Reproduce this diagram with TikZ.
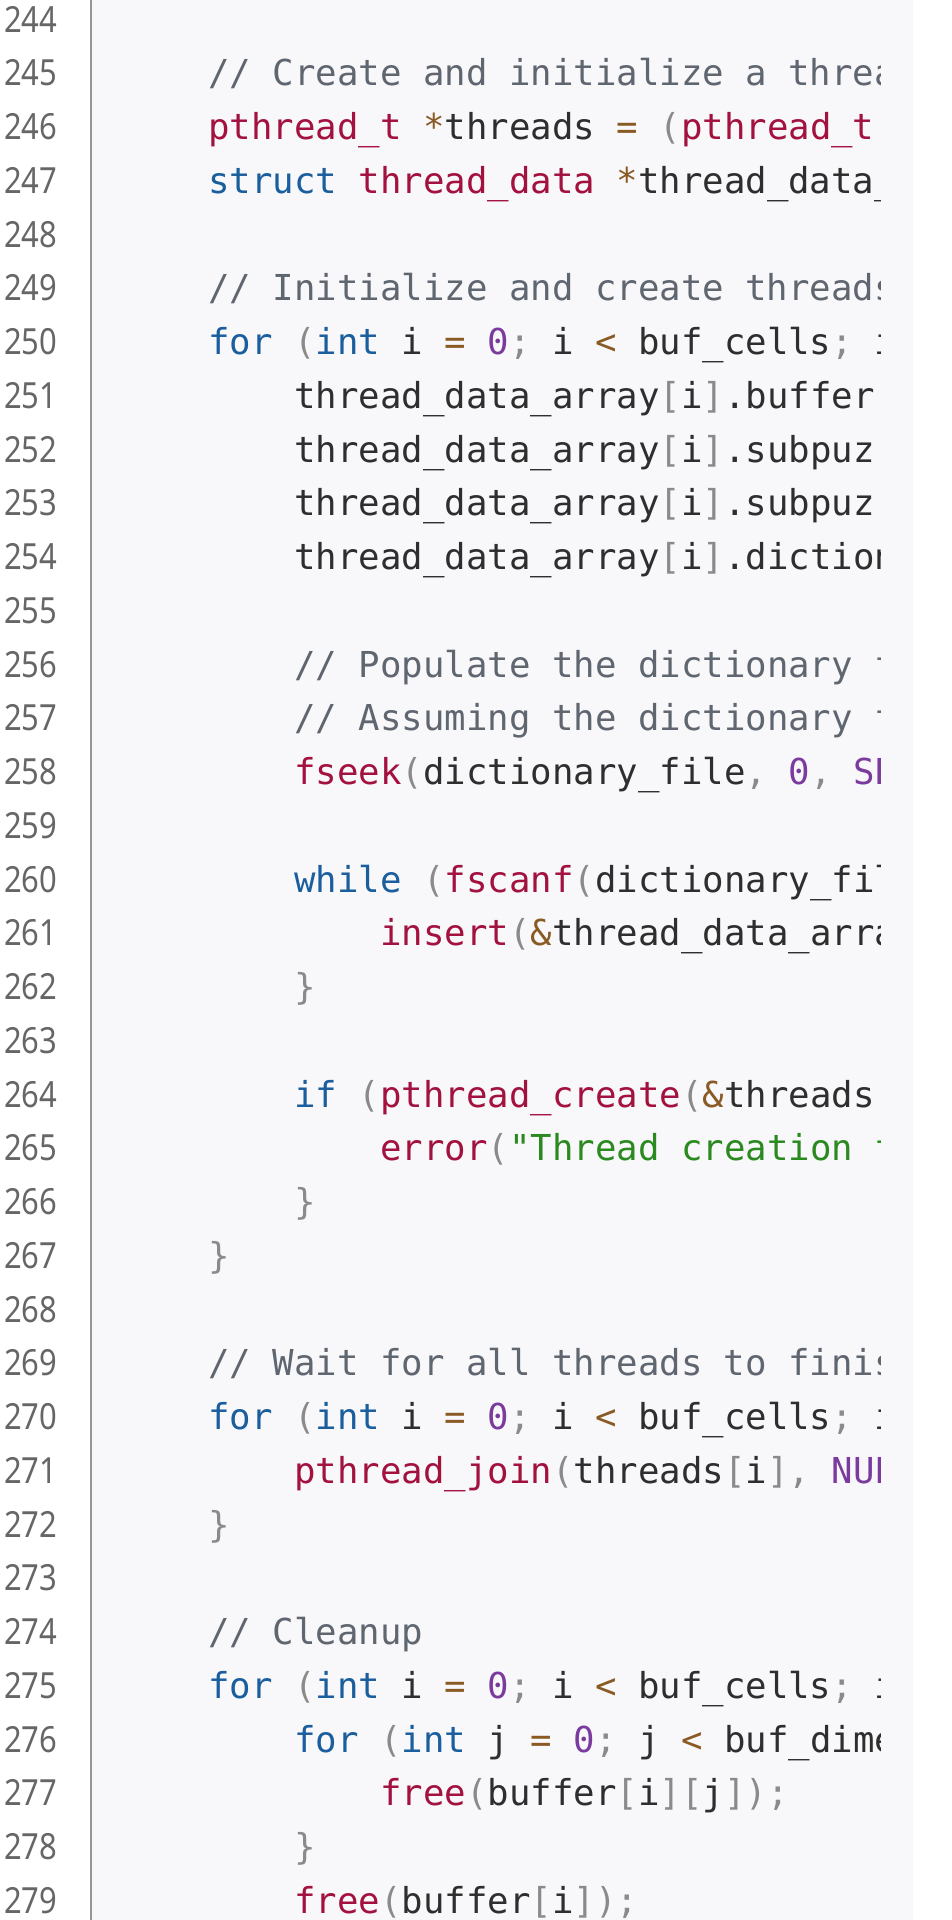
\documentclass[tikz,border=0pt]{standalone}
\usepackage{fontspec}
\setmonofont{DejaVu Sans Mono}
\newfontfamily\numfont{Noto Sans}
\definecolor{cmt}{HTML}{5F6670}
\definecolor{typ}{HTML}{A3123F}
\definecolor{kwd}{HTML}{1A5E9E}
\definecolor{num}{HTML}{7B3A9E}
\definecolor{opr}{HTML}{8A5A24}
\definecolor{pun}{HTML}{8A8A8A}
\definecolor{idn}{HTML}{2E2E2E}
\definecolor{str}{HTML}{2B8A1F}
\definecolor{lnum}{HTML}{666666}
\definecolor{panel}{HTML}{F8F8FA}
\newcommand{\cm}[1]{\textcolor{cmt}{#1}}
\newcommand{\ty}[1]{\textcolor{typ}{#1}}
\newcommand{\kw}[1]{\textcolor{kwd}{#1}}
\newcommand{\nm}[1]{\textcolor{num}{#1}}
\newcommand{\op}[1]{\textcolor{opr}{#1}}
\newcommand{\pn}[1]{\textcolor{pun}{#1}}
\newcommand{\st}[1]{\textcolor{str}{#1}}
\tikzset{
  codeline/.style={anchor=base west,inner sep=0pt,font=\ttfamily\fontsize{35.7}{40}\selectfont,text=idn},
  lineno/.style={anchor=base west,inner sep=0pt,font=\numfont\fontsize{36}{40}\selectfont,text=lnum,xscale=0.86}
}
\begin{document}
\begin{tikzpicture}[x=1pt,y=-1pt]
\useasboundingbox (0,0) rectangle (952,1920);
\fill[white] (0,0) rectangle (952,1920);
\fill[panel] (92,0) rectangle (913,1920);
\draw[pun!90,line width=2pt] (91,0) -- (91,1920);
\foreach \k [evaluate=\k as \yy using {32+(\k-244)*53.75}] in {244,...,279}{
  \node[lineno] (n\k) at (4,\yy) {\k};
}
\begin{scope}
\clip (92,0) rectangle (880,1920);
\newcommand{\cl}[3]{\node[codeline] (c#1) at ({208+#2*21.5},{32+(#1-244)*53.75}) {#3};}
\cl{245}{0}{\cm{// Create and initialize a thread}}
\cl{246}{0}{\ty{pthread\_t} \op{*}threads \op{=} \pn{(}\ty{pthread\_t}}
\cl{247}{0}{\kw{struct} \ty{thread\_data} \op{*}thread\_data\_a}
\cl{249}{0}{\cm{// Initialize and create threads}}
\cl{250}{0}{\kw{for} \pn{(}\kw{int} i \op{=} \nm{0}\pn{;} i \op{<} buf\_cells\pn{;} i}
\cl{251}{4}{thread\_data\_array\pn{[}i\pn{]}.buffer}
\cl{252}{4}{thread\_data\_array\pn{[}i\pn{]}.subpuz}
\cl{253}{4}{thread\_data\_array\pn{[}i\pn{]}.subpuz}
\cl{254}{4}{thread\_data\_array\pn{[}i\pn{]}.diction}
\cl{256}{4}{\cm{// Populate the dictionary f}}
\cl{257}{4}{\cm{// Assuming the dictionary f}}
\cl{258}{4}{\ty{fseek}\pn{(}dictionary\_file\pn{,} \nm{0}\pn{,} \nm{SEEK}}
\cl{260}{4}{\kw{while} \pn{(}\ty{fscanf}\pn{(}dictionary\_fil}
\cl{261}{8}{\ty{insert}\pn{(}\op{\&}thread\_data\_arra}
\cl{262}{4}{\pn{\}}}
\cl{264}{4}{\kw{if} \pn{(}\ty{pthread\_create}\pn{(}\op{\&}threads\pn{[}}
\cl{265}{8}{\ty{error}\pn{(}\st{\textquotedbl Thread creation f}}
\cl{266}{4}{\pn{\}}}
\cl{267}{0}{\pn{\}}}
\cl{269}{0}{\cm{// Wait for all threads to finish}}
\cl{270}{0}{\kw{for} \pn{(}\kw{int} i \op{=} \nm{0}\pn{;} i \op{<} buf\_cells\pn{;} i}
\cl{271}{4}{\ty{pthread\_join}\pn{(}threads\pn{[}i\pn{]}\pn{,} \nm{NULL}}
\cl{272}{0}{\pn{\}}}
\cl{274}{0}{\cm{// Cleanup}}
\cl{275}{0}{\kw{for} \pn{(}\kw{int} i \op{=} \nm{0}\pn{;} i \op{<} buf\_cells\pn{;} i}
\cl{276}{4}{\kw{for} \pn{(}\kw{int} j \op{=} \nm{0}\pn{;} j \op{<} buf\_dimen}
\cl{277}{8}{\ty{free}\pn{(}buffer\pn{[}i\pn{]}\pn{[}j\pn{]}\pn{)}\pn{;}}
\cl{278}{4}{\pn{\}}}
\cl{279}{4}{\ty{free}\pn{(}buffer\pn{[}i\pn{]}\pn{)}\pn{;}}
\end{scope}
\end{tikzpicture}
\end{document}
